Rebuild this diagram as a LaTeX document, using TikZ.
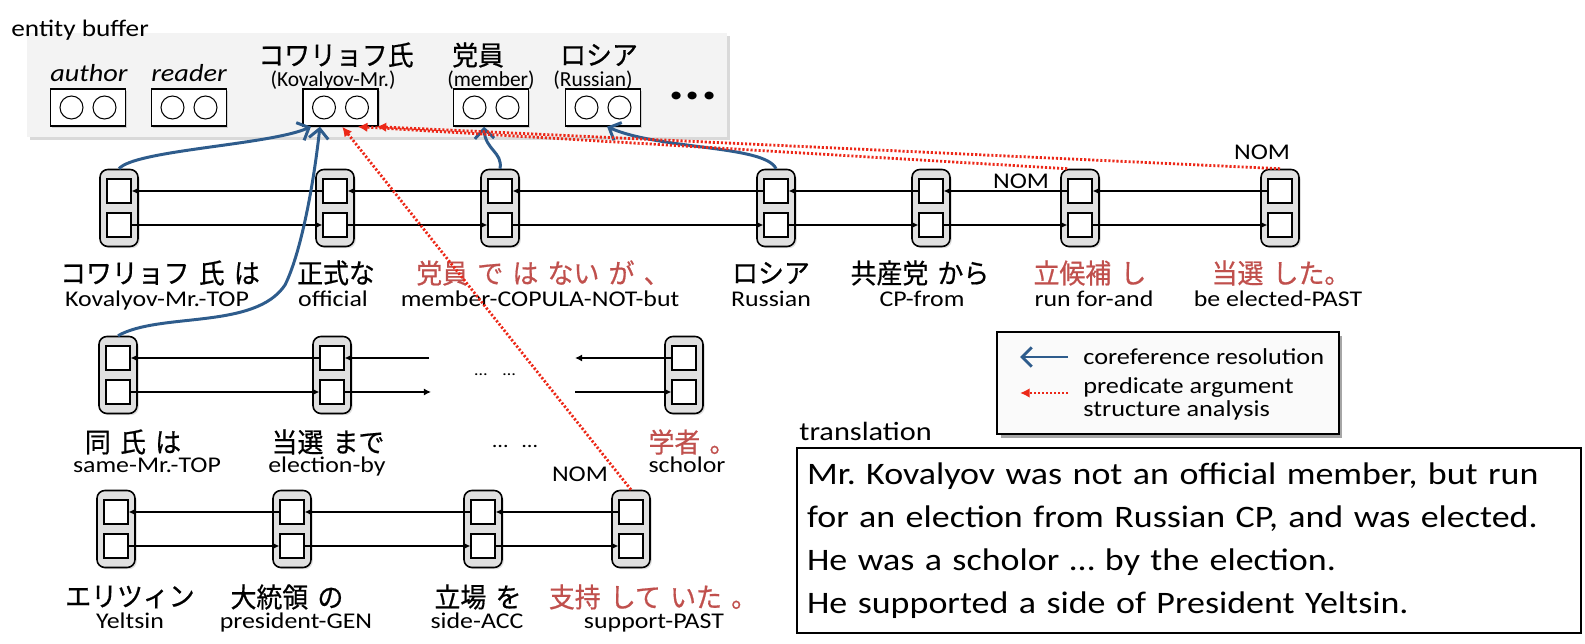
\documentclass[tikz,border=0pt]{standalone}
\usepackage{fontspec}
\setmainfont{Carlito}[FakeStretch=1.15]
\newfontfamily\plainsans{Carlito}
\newfontfamily\jp{Noto Sans CJK JP}[WordSpace=1.6, FakeStretch=0.95, FakeBold=0.6]
\usetikzlibrary{arrows.meta,shadows}

\definecolor{jred}{RGB}{192,80,77}
\definecolor{corefblue}{RGB}{46,92,140}
\definecolor{pasred}{RGB}{236,40,24}
\definecolor{panelgray}{RGB}{243,243,243}
\definecolor{tokgray}{RGB}{224,224,224}

\tikzset{
  tok/.style={draw, line width=0.9pt, rounded corners=4.5pt, fill=tokgray,
    minimum width=0.76cm, minimum height=1.54cm, inner sep=0pt,
    drop shadow={opacity=0.25, shadow xshift=1pt, shadow yshift=-1pt}},
  sq/.style={draw, line width=0.7pt, fill=white, minimum size=0.48cm, inner sep=0pt},
  slot/.style={draw, line width=0.8pt, fill=white, minimum width=1.5cm,
    minimum height=0.74cm, inner sep=0pt,
    drop shadow={opacity=0.3, shadow xshift=1pt, shadow yshift=-1pt}},
  ring/.style={draw, circle, line width=0.6pt, minimum size=0.46cm, inner sep=0pt},
  chain/.style={-{Latex[length=4pt,width=4pt]}, line width=0.8pt},
  coref/.style={-{Straight Barb[length=5.5pt,width=11pt]}, corefblue, line width=1.7pt},
  pas/.style={-{Latex[length=5.5pt,width=5.5pt]}, pasred, line width=1.6pt,
    dash pattern=on 1.2pt off 1.1pt},
  jword/.style={font=\jp\fontsize{15.5}{17}\selectfont, inner sep=0pt},
  gloss/.style={font=\fontsize{12.8}{14}\selectfont, inner sep=0pt, anchor=base},
  entname/.style={font=\plainsans\fontsize{12.2}{14}\selectfont, inner sep=0pt},
  legtext/.style={font=\fontsize{13}{13.5}\selectfont, inner sep=0pt, anchor=west, align=left},
}

\begin{document}
\begin{tikzpicture}[x=0.02cm, y=-0.02cm]
  \useasboundingbox (0,0) rectangle (1585,644);

  % entity buffer
  \fill[panelgray, drop shadow={opacity=0.3, shadow xshift=1.5pt, shadow yshift=-1.5pt}]
    (27,33) rectangle (727,137);
  \node[anchor=base west, inner sep=0pt, font=\fontsize{13.5}{16}\selectfont] (buflabel) at (11,37) {entity buffer};

  \node[slot] (author) at (88,107.5) {};
  \node[slot] (reader) at (189,107.5) {};
  \node[slot] (kov) at (340.5,107.5) {};
  \node[slot] (mem) at (491,107.5) {};
  \node[slot] (rus) at (603,107.5) {};
  \foreach \s in {author,reader,kov,mem,rus} {
    \node[ring] (\s-l) at ([xshift=-0.33cm]\s.center) {};
    \node[ring] (\s-r) at ([xshift=0.33cm]\s.center) {};
  }

  \node[anchor=base, inner sep=0pt, font=\itshape\fontsize{14}{16}\selectfont] (authorname) at (89,82) {author};
  \node[anchor=base, inner sep=0pt, font=\itshape\fontsize{14}{16}\selectfont] (readername) at (189,82) {reader};
  \node[jword] (kovname) at (336,55) {コワリョフ氏};
  \node[entname] (kovgloss) at (333,80) {(Kovalyov-Mr.)};
  \node[jword] (memname) at (478,55) {党員};
  \node[entname] (memgloss) at (491,80) {(member)};
  \node[jword] (rusname) at (599,55) {ロシア};
  \node[entname] (rusgloss) at (593,80) {(Russian)};
  \node[anchor=base, inner sep=0pt, font=\bfseries\fontsize{30}{30}\selectfont] (more) at (693,100) {...};

  % sentence 1
  \foreach \n/\x in {a1/119,a2/335,a3/500,a4/776,a5/931,a6/1080,a7/1280} {
    \node[tok] (\n) at (\x,208) {};
    \node[sq] (\n-u) at (\x,191) {};
    \node[sq] (\n-d) at (\x,225) {};
  }
  \foreach \p/\q in {a1/a2,a2/a3,a3/a4,a4/a5,a5/a6,a6/a7} {
    \draw[chain] (\q-u.west) -- (\p-u.east);
    \draw[chain] (\p-d.east) -- (\q-d.west);
  }
  \node[jword] (w1) at (160,273) {コワリョフ 氏 は};
  \node[jword] (w2) at (336,273) {正式な};
  \node[jword, jred] (w3) at (543,273) {党員 で は ない が 、};
  \node[jword] (w4) at (771,273) {ロシア};
  \node[jword] (w5) at (920,273) {共産党 から};
  \node[jword, jred] (w6) at (1090,273) {立候補 し};
  \node[jword, jred] (w7) at (1281,273) {当選 した。};
  \node[gloss] (g1) at (157,307) {Kovalyov-Mr.-TOP};
  \node[gloss] (g2) at (333,307) {official};
  \node[gloss] (g3) at (540,307) {member-COPULA-NOT-but};
  \node[gloss] (g4) at (771,307) {Russian};
  \node[gloss] (g5) at (922,307) {CP-from};
  \node[gloss] (g6) at (1094,307) {run for-and};
  \node[gloss] (g7) at (1278,307) {be elected-PAST};

  % sentence 2
  \foreach \n/\x in {b1/118,b2/332,b3/684} {
    \node[tok] (\n) at (\x,375) {};
    \node[sq] (\n-u) at (\x,358) {};
    \node[sq] (\n-d) at (\x,392) {};
  }
  \coordinate (b2r-u) at (429,358);
  \coordinate (b2r-d) at (431,392);
  \coordinate (b3l-u) at (575,358);
  \coordinate (b3l-d) at (575,392);
  \draw[chain] (b2-u.west) -- (b1-u.east);
  \draw[chain] (b1-d.east) -- (b2-d.west);
  \draw[chain] (b2r-u) -- (b2-u.east);
  \draw[chain] (b2-d.east) -- (b2r-d);
  \draw[chain] (b3-u.west) -- (b3l-u);
  \draw[chain] (b3l-d) -- (b3-d.west);
  \node[inner sep=0pt, font=\fontsize{9}{10}\selectfont] (gapdots) at (495,375) {…\hspace{9pt}…};
  \node[jword] (x1) at (133,442) {同 氏 は};
  \node[jword] (x2) at (328,442) {当選 まで};
  \node[inner sep=0pt, font=\fontsize{11}{12}\selectfont] (xdots) at (515,446) {…\hspace{8pt}…};
  \node[jword, jred] (x3) at (692,442) {学者 。};
  \node[gloss] (h1) at (147,473) {same-Mr.-TOP};
  \node[gloss] (h2) at (327,473) {election-by};
  \node[gloss] (h3) at (687,473) {scholor};

  % sentence 3
  \foreach \n/\x in {c1/116,c2/292,c3/483,c4/631} {
    \node[tok] (\n) at (\x,529) {};
    \node[sq] (\n-u) at (\x,512) {};
    \node[sq] (\n-d) at (\x,546) {};
  }
  \foreach \p/\q in {c1/c2,c2/c3,c3/c4} {
    \draw[chain] (\q-u.west) -- (\p-u.east);
    \draw[chain] (\p-d.east) -- (\q-d.west);
  }
  \node[jword] (y1) at (130,597) {エリツィン};
  \node[jword] (y2) at (287,597) {大統領 の};
  \node[jword] (y3) at (478,597) {立場 を};
  \node[jword, jred] (y4) at (653,597) {支持 して いた 。};
  \node[gloss] (k1) at (130,628) {Yeltsin};
  \node[gloss] (k2) at (296,628) {president-GEN};
  \node[gloss] (k3) at (477,628) {side-ACC};
  \node[gloss] (k4) at (654,628) {support-PAST};

  % NOM labels
  \node[inner sep=0pt, font=\fontsize{12.8}{14}\selectfont] (nomA) at (1262,152) {NOM};
  \node[inner sep=0pt, font=\fontsize{12.8}{14}\selectfont] (nomB) at (1021,181) {NOM};
  \node[inner sep=0pt, font=\fontsize{12.8}{14}\selectfont] (nomC) at (580,474) {NOM};

  % coreference
  \draw[coref] (a1.north) .. controls (135,150) and (270,145) .. (kov.213);
  \draw[coref] (b1.north) .. controls (160,312) and (255,330) .. (285,285)
    .. controls (300,255) and (313,190) .. (kov.223);
  \draw[coref] (a3.north) .. controls (503,152) and (485,150) .. (mem.250);
  \draw[coref] (a4.north) .. controls (765,145) and (660,150) .. (rus.-78);

  % predicate argument structure
  \draw[pas] (a7.north) -- (kov.-28);
  \draw[pas] (a6.108) -- (kov.-48);
  \draw[pas] (c4.north) -- (kov.-85);

  % legend
  \node[draw, line width=0.9pt, fill=gray!4, minimum width=6.84cm, minimum height=2.04cm,
    inner sep=0pt, drop shadow={opacity=0.7, shadow xshift=2pt, shadow yshift=-2pt}] (legend) at (1168,383) {};
  \coordinate (lb-a) at (1068,357);
  \coordinate (lb-b) at (1020,357);
  \coordinate (lr-a) at (1068,393);
  \coordinate (lr-b) at (1020,393);
  \draw[coref] (lb-a) -- (lb-b);
  \draw[pas, line width=1.1pt] (lr-a) -- (lr-b);
  \node[legtext] (leg1) at (1083,357) {coreference resolution};
  \node[legtext] (leg2) at (1083,399) {predicate argument\\structure analysis};

  % translation
  \node[anchor=base west, inner sep=0pt, font=\fontsize{15}{17}\selectfont] (translabel) at (799,441) {translation};
  \node[draw, line width=0.7pt, minimum width=15.68cm, minimum height=3.7cm, text width=15.28cm,
    inner xsep=0.2cm, align=left, font=\fontsize{17.8}{24.5}\selectfont] (trans) at (1189,540.5)
    {Mr.\ Kovalyov was not an official member, but run\\
     for an election from Russian CP, and was elected.\\
     He was a scholor … by the election.\\
     He supported a side of President Yeltsin.};
\end{tikzpicture}
\end{document}
